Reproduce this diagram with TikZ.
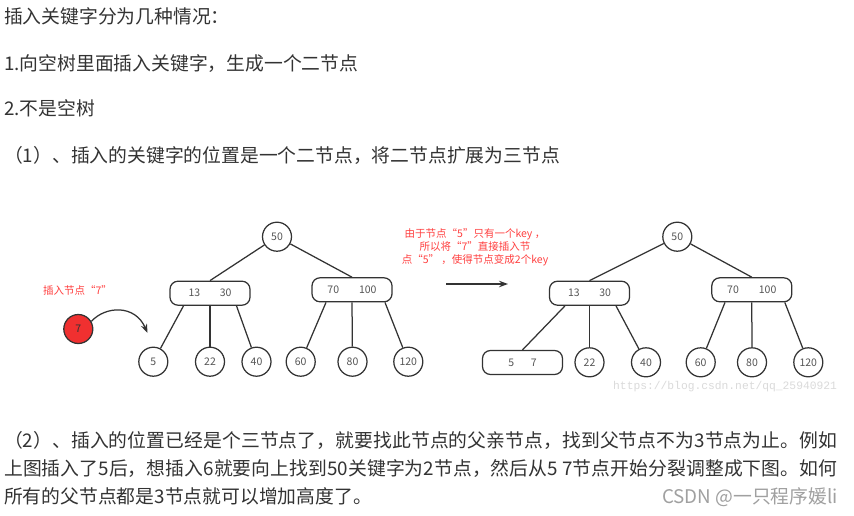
\documentclass[tikz,border=0pt]{standalone}
\usepackage{fontspec}
\setmainfont{Noto Sans CJK SC}
\newfontfamily\urlfont{Liberation Mono}
\usepackage{xcolor}
\usepackage{tikz}
\usetikzlibrary{arrows.meta}
\definecolor{bodygray}{RGB}{51,51,51}
\definecolor{linegray}{RGB}{51,51,51}
\definecolor{numgray}{RGB}{85,85,85}
\definecolor{notered}{RGB}{255,64,64}
\definecolor{keyred}{RGB}{240,48,48}
\definecolor{creditgray}{RGB}{160,160,160}
\definecolor{markgray}{RGB}{218,218,218}
\XeTeXlinebreaklocale "zh"
\XeTeXlinebreakskip=0pt plus 1pt

\begin{document}
\begin{tikzpicture}[
    x=1pt, y=-1pt,
    keynode/.style={circle, draw=linegray, line width=1.25pt, fill=white, minimum size=29pt, inner sep=0pt, text=numgray, font=\fontsize{10.5}{12}\selectfont},
    multinode/.style={rectangle, rounded corners=8pt, draw=linegray, line width=1.25pt, fill=white, minimum width=80pt, minimum height=24pt, inner sep=0pt, text=numgray, font=\fontsize{10.5}{12}\selectfont},
    newnode/.style={keynode, fill=keyred, text=bodygray},
    treeline/.style={line width=1.25pt, draw=linegray},
    arrow/.style={-{Stealth[length=9pt, width=6.5pt]}, line width=1.25pt, draw=linegray},
    bodytext/.style={anchor=base west, inner sep=0pt, text=bodygray, font=\fontsize{18.8}{22}\selectfont},
    notetext/.style={inner sep=0pt, text=notered, align=center, font=\fontsize{10.5}{13}\selectfont}
]
    \useasboundingbox (0,0) rectangle (854,515);
    \fill[white] (0,0) rectangle (854,515);

    % Text above the figure
    \node[bodytext] (intro) at (4, 23.1) {插入关键字分为几种情况：};
    \node[bodytext] (case1) at (4, 70.4) {1.向空树里面插入关键字，生成一个二节点};
    \node[bodytext] (case2) at (4, 115.4) {2.不是空树};
    \node[bodytext] (case21) at (4, 162.1) {（1）、插入的关键字的位置是一个二节点，将二节点扩展为三节点};

    % Tree before insertion
    \node[keynode] (lroot) at (277, 236.7) {50};
    \node[multinode] (lmidA) at (210, 293.2) {13\hspace{19.5pt}30};
    \node[multinode] (lmidB) at (352, 289.8) {70\hspace{20pt}100};
    \node[keynode] (lk5) at (153.3, 361.7) {5};
    \node[keynode] (lk22) at (210, 361.7) {22};
    \node[keynode] (lk40) at (256.5, 361.7) {40};
    \node[keynode] (lk60) at (300.7, 361.7) {60};
    \node[keynode] (lk80) at (352.5, 361.7) {80};
    \node[keynode] (lk120) at (408.3, 361.7) {120};

    \draw[treeline] (lroot) -- (lmidA.north);
    \draw[treeline] (lroot) -- (lmidB.north);
    \draw[treeline] ([xshift=-26.5pt]lmidA.south) -- (lk5);
    \draw[treeline] (lmidA.south) -- (lk22);
    \draw[treeline] ([xshift=26.5pt]lmidA.south) -- (lk40);
    \draw[treeline] ([xshift=-26pt]lmidB.south) -- (lk60);
    \draw[treeline] (lmidB.south) -- (lk80);
    \draw[treeline] ([xshift=33pt]lmidB.south) -- (lk120);

    % New key
    \node[notetext] (insert_label) at (77.5, 290.5) {插入节点“7”};
    \node[newnode] (newkey) at (78.3, 329) {7};
    \coordinate (drop) at (147.5, 333);
    \draw[arrow] (newkey.30) .. controls (105, 306) and (135, 304) .. (drop);

    % Note and step arrow
    \node[notetext] (move_note) at (475, 247.5) {由于节点“5”只有一个key ，\\所以将“7”直接插入节\\点“5” ，使得节点变成2个key};
    \coordinate (step_from) at (446, 284);
    \coordinate (step_to) at (508, 284);
    \draw[arrow] (step_from) -- (step_to);

    % Tree after insertion
    \node[keynode] (rroot) at (677.3, 236.7) {50};
    \node[multinode] (rmidA) at (589.5, 293.2) {13\hspace{19.5pt}30};
    \node[multinode] (rmidB) at (751.8, 289.8) {70\hspace{20pt}100};
    \node[multinode] (rk57) at (522.5, 362.5) {5\hspace{16.75pt}7};
    \node[keynode] (rk22) at (589.5, 362.3) {22};
    \node[keynode] (rk40) at (646, 362.3) {40};
    \node[keynode] (rk60) at (700.7, 362.3) {60};
    \node[keynode] (rk80) at (752, 362.3) {80};
    \node[keynode] (rk120) at (808.3, 362.3) {120};

    \draw[treeline] (rroot) -- (rmidA.north);
    \draw[treeline] (rroot) -- (rmidB.north);
    \draw[treeline] ([xshift=-24.5pt]rmidA.south) -- (rk57.north);
    \draw[treeline] (rmidA.south) -- (rk22);
    \draw[treeline] ([xshift=26.5pt]rmidA.south) -- (rk40);
    \draw[treeline] ([xshift=-26.8pt]rmidB.south) -- (rk60);
    \draw[treeline] (rmidB.south) -- (rk80);
    \draw[treeline] ([xshift=33pt]rmidB.south) -- (rk120);

    \node[anchor=base west, inner sep=0pt, text=markgray, font=\urlfont\fontsize{11.3}{13}\selectfont] (watermark) at (613, 389) {https://blog.csdn.net/qq\_25940921};

    % Text below the figure
    \node[bodytext, text width=833pt, align=justify] (case22a) at (4, 447.1) {（2）、插入的位置已经是个三节点了，就要找此节点的父亲节点，找到父节点不为3节点为止。例如\parfillskip=0pt\par};
    \node[bodytext, text width=833pt, align=justify] (case22b) at (4, 475.4) {上图插入了5后，想插入6就要向上找到50关键字为2节点，然后从5 7节点开始分裂调整成下图。如何\parfillskip=0pt\par};
    \node[bodytext] (case22c) at (4, 503.8) {所有的父节点都是3节点就可以增加高度了。};
    \node[anchor=base east, inner sep=0pt, text=creditgray, font=\fontsize{18.8}{22}\selectfont] (credit) at (838, 503.8) {CSDN @一只程序媛li};
\end{tikzpicture}
\end{document}
